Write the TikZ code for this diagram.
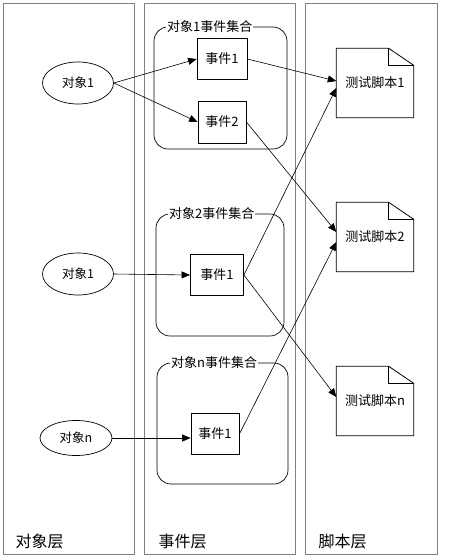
\documentclass[tikz,border=0pt]{standalone}
\usepackage{fontspec}
\setmainfont{Noto Sans CJK SC}
\usetikzlibrary{arrows.meta, positioning, shapes.geometric}
\definecolor{laneGray}{HTML}{808080}

\begin{document}
\begin{tikzpicture}[x=1pt, y=-1pt,
    lane/.style={draw=laneGray, line width=0.9pt},
    lanelabel/.style={anchor=west, font=\fontsize{16}{18}\selectfont},
    obj/.style={ellipse, draw, line width=0.7pt, minimum width=71pt,
                minimum height=42pt, inner sep=0pt, font=\fontsize{12.5}{14}\selectfont},
    evt/.style={rectangle, draw, line width=0.8pt, minimum width=50pt,
                minimum height=41pt, inner sep=0pt, font=\fontsize{13}{14}\selectfont},
    group/.style={draw, line width=0.7pt, rounded corners=14pt},
    grouplabel/.style={anchor=west, fill=white, inner sep=1pt,
                font=\fontsize{13}{14}\selectfont},
    script/.style={rectangle, minimum width=77pt, minimum height=69pt,
                inner sep=0pt, font=\fontsize{13}{14}\selectfont},
    link/.style={-{Triangle[length=8.5pt,width=7pt]}, line width=0.6pt},
  ]
    \useasboundingbox (0,0) rectangle (472,560);

    % swim lanes
    \draw[lane] (3,3) rectangle (134,554);
    \draw[lane] (144,3) rectangle (295,554);
    \draw[lane] (305,3) rectangle (437,554);
    \node[lanelabel] (objLayer) at (12,541) {对象层};
    \node[lanelabel] (evtLayer) at (155,541) {事件层};
    \node[lanelabel] (scrLayer) at (315,541) {脚本层};

    % event groups
    \draw[group] (154,27) rectangle (287,149);
    \draw[group] (156,214) rectangle (284,336);
    \draw[group] (157,363) rectangle (288,484);
    \node[grouplabel] (g1) at (166,27) {对象1事件集合};
    \node[grouplabel] (g2) at (168,214) {对象2事件集合};
    \node[grouplabel] (g3) at (170,363) {对象n事件集合};

    % objects
    \node[obj] (obj1) at (78,83) {对象1};
    \node[obj] (obj2) at (78,274) {对象1};
    \node[obj, minimum width=72pt, minimum height=35pt] (objn) at (76,438) {对象n};

    % events
    \node[evt] (e11) at (222,59) {事件1};
    \node[evt, minimum width=48pt, minimum height=42pt] (e12) at (222,122) {事件2};
    \node[evt, minimum width=53pt] (e21) at (217,275) {事件1};
    \node[evt, minimum width=48pt] (en1) at (215,434) {事件1};

    % scripts
    \node[script] (s1) at (375,83) {\raisebox{-9pt}{测试脚本1}};
    \node[script] (s2) at (375,237) {\raisebox{-9pt}{测试脚本2}};
    \node[script] (sn) at (375,401) {\raisebox{-9pt}{测试脚本n}};
    \foreach \s in {s1,s2,sn} {
      \draw[line width=0.8pt] (\s.north west) -- ([xshift=-25pt]\s.north east)
        -- ([yshift=-17pt]\s.north east) -- (\s.south east)
        -- (\s.south west) -- cycle;
      \draw[line width=0.6pt] ([xshift=-25pt]\s.north east)
        -- ([xshift=-25pt, yshift=-17pt]\s.north east)
        -- ([yshift=-17pt]\s.north east);
    }

    % links
    \draw[link] (obj1.east) -- (e11.west);
    \draw[link] (obj1.east) -- (e12.west);
    \draw[link] (obj2.east) -- (e21.west);
    \draw[link] (objn.east) -- (objn.east -| en1.west);
    \draw[link] (e11.east) -- ([yshift=2pt]s1.west);
    \draw[link] (e21.east) -- ([yshift=-5pt]s1.west);
    \draw[link] (e12.east) -- ([yshift=5pt]s2.west);
    \draw[link] (en1.east) -- ([yshift=-5pt]s2.west);
    \draw[link] (e21.east) -- ([yshift=4pt]sn.west);
  \end{tikzpicture}
\end{document}
